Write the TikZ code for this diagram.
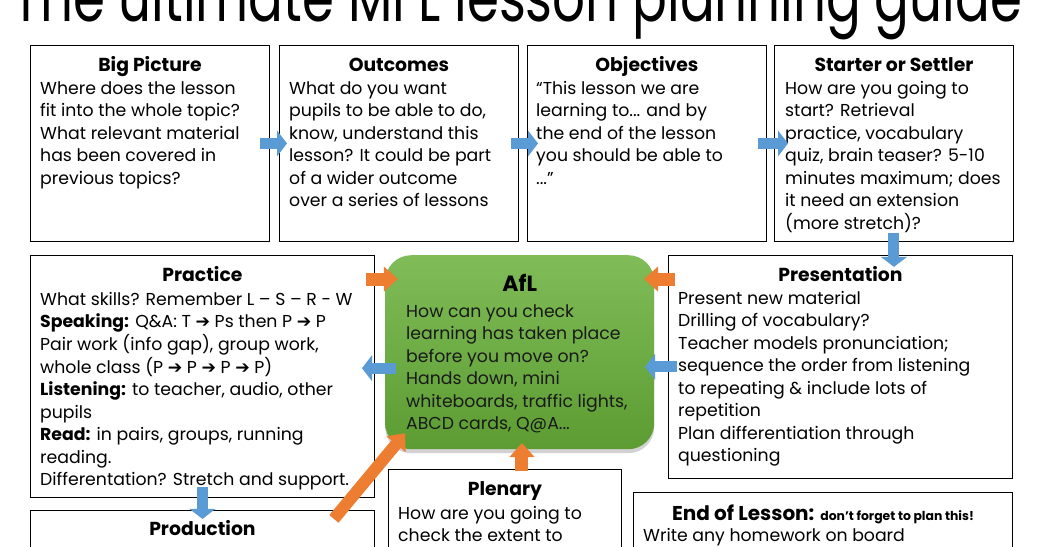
\documentclass[tikz,border=0pt]{standalone}
\usepackage{fontspec}
\setmainfont{Poppins}
\newfontfamily\arrowfont{DejaVu Sans}
\usepackage{graphicx}
\usetikzlibrary{arrows.meta,shadows,positioning}

\definecolor{arrowblue}{RGB}{91,155,213}
\definecolor{arroworange}{RGB}{237,125,49}
\definecolor{afltop}{RGB}{128,188,88}
\definecolor{aflbottom}{RGB}{92,156,50}

\newcommand{\pto}{{\arrowfont\bfseries ➔}}
\newcommand{\cardlines}[1]{\begin{tabular}[t]{@{}l@{}}#1\end{tabular}}

\tikzset{
  card/.style={draw, line width=0.9pt, fill=white, anchor=north west, inner sep=0pt},
  head/.style={anchor=base, inner sep=0pt, font=\fontsize{18.8}{22.5}\selectfont\bfseries},
  body/.style={anchor=base west, inner sep=0pt, font=\fontsize{17.3}{22.5}\selectfont},
  bluearrow/.style={draw=arrowblue, line width=11pt, -{Triangle[length=10pt,width=26pt,line width=0pt]}},
  orangearrow/.style={draw=arroworange, line width=13pt, -{Triangle[length=14pt,width=25pt,line width=0pt]}},
}

\begin{document}
\begin{tikzpicture}[x=1pt, y=-1pt]
        \useasboundingbox (0,0) rectangle (1040,546);
        \clip (0,0) rectangle (1040,546);
        \fill[white] (0,0) rectangle (1040,546);

        \node[anchor=base west, inner sep=0pt] (title) at (12,21)
            {\resizebox{1010pt}{52pt}{\fontsize{48}{54}\selectfont The ultimate MFL lesson planning guide}};

        % top row
        \node[card, minimum width=239pt, minimum height=196pt] (big) at (30,45) {};
        \node[card, minimum width=239pt, minimum height=196pt] (out) at (279,45) {};
        \node[card, minimum width=239pt, minimum height=196pt] (obj) at (527,45) {};
        \node[card, minimum width=239pt, minimum height=196pt] (sta) at (774,45) {};

        \node[head] (bigh) at ([yshift=-26pt]big.north) {Big Picture};
        \node[head] (outh) at ([yshift=-26pt]out.north) {Outcomes};
        \node[head] (objh) at ([yshift=-26pt]obj.north) {Objectives};
        \node[head] (stah) at ([yshift=-26pt]sta.north) {Starter or Settler};

        \node[body] (bigt) at ([shift={(10pt,-49pt)}]big.north west)
            {\cardlines{Where does the lesson\\fit into the whole topic?\\What relevant material\\has been covered in\\previous topics?}};
        \node[body] (outt) at ([shift={(10pt,-49pt)}]out.north west)
            {\cardlines{What do you want\\pupils to be able to do,\\know, understand this\\lesson? It could be part\\of a wider outcome\\over a series of lessons}};
        \node[body] (objt) at ([shift={(9pt,-49pt)}]obj.north west)
            {\cardlines{“This lesson we are\\learning to... and by\\the end of the lesson\\you should be able to\\...”}};
        \node[body] (stat) at ([shift={(11pt,-49pt)}]sta.north west)
            {\cardlines{How are you going to\\start? Retrieval\\practice, vocabulary\\quiz, brain teaser? 5-10\\minutes maximum; does\\it need an extension\\(more stretch)?}};

        % middle row
        \node[card, minimum width=344pt, minimum height=242pt] (prac) at (30,255) {};
        \node[card, minimum width=344pt, minimum height=223pt] (pres) at (668,255) {};
        \node[anchor=north west, minimum width=269pt, minimum height=194pt, inner sep=0pt,
              rounded corners=26pt, top color=afltop, bottom color=aflbottom,
              drop shadow={opacity=0.35, shadow xshift=0pt, shadow yshift=-4pt}] (afl) at (385,255) {};

        \node[head] (prach) at ([yshift=-26pt]prac.north) {Practice};
        \node[head] (presh) at ([yshift=-26pt]pres.north) {Presentation};
        \node[head, font=\fontsize{22}{24}\selectfont\bfseries] (aflh) at ([yshift=-36pt]afl.north) {AfL};

        \node[body] (pract) at ([shift={(10pt,-50pt)}]prac.north west)
            {\cardlines{What skills? Remember L – S – R - W\\
             \textbf{Speaking:} Q\&A: T \pto{} Ps then P \pto{} P\\
             Pair work (info gap), group work,\\
             whole class (P \pto{} P \pto{} P \pto{} P)\\
             \textbf{Listening:} to teacher, audio, other\\
             pupils\\
             \textbf{Read:} in pairs, groups, running\\
             reading.\\
             Differentation? Stretch and support.}};
        \node[body] (prest) at ([shift={(10pt,-49pt)}]pres.north west)
            {\cardlines{Present new material\\Drilling of vocabulary?\\Teacher models pronunciation;\\sequence the order from listening\\to repeating \& include lots of\\repetition\\Plan differentiation through\\questioning}};
        \node[body, text=black!90] (aflt) at ([shift={(21pt,-62pt)}]afl.north west)
            {\cardlines{How can you check\\learning has taken place\\before you move on?\\Hands down, mini\\whiteboards, traffic lights,\\ABCD cards, Q@A...}};

        % bottom row
        \node[card, minimum width=344pt, minimum height=60pt] (prod) at (30,510) {};
        \node[card, minimum width=233pt, minimum height=100pt] (plen) at (388,469) {};
        \node[card, minimum width=379pt, minimum height=80pt] (endl) at (633,492) {};

        \node[head] (prodh) at ([yshift=-25pt]prod.north) {Production};
        \node[head] (plenh) at ([yshift=-26pt]plen.north) {Plenary};
        \node[anchor=base, inner sep=0pt] (endh) at ([yshift=-28pt]endl.north)
            {\fontsize{20}{22}\selectfont\bfseries End of Lesson:\hspace{6pt}{\fontsize{12.4}{14}\selectfont don’t forget to plan this!}};

        \node[body] (plent) at ([shift={(10pt,-50pt)}]plen.north west)
            {\cardlines{How are you going to\\check the extent to}};
        \node[body] (endt) at ([shift={(10pt,-49pt)}]endl.north west)
            {\cardlines{Write any homework on board}};

        % flow arrows
        \draw[bluearrow] ([xshift=-10pt]big.east) -- ([xshift=8pt]out.west);
        \draw[bluearrow] ([xshift=-8pt]out.east) -- ([xshift=11pt]obj.west);
        \draw[bluearrow] ([xshift=-9pt]obj.east) -- ([xshift=14pt]sta.west);
        \draw[bluearrow] ([yshift=9pt]sta.south) -- ++(0,34);
        \draw[bluearrow] ([xshift=9pt]pres.west) -- ++(-32,0);
        \draw[bluearrow] ([shift={(11pt,-16pt)}]afl.west) -- ++(-34,0);
        \draw[bluearrow] ([yshift=11pt]prac.south) -- ++(0,32);

        \draw[orangearrow] ([shift={(-9pt,-24pt)}]prac.north east) -- ++(32,0);
        \draw[orangearrow] ([shift={(7pt,-24pt)}]pres.north west) -- ++(-31,0);
        \draw[orangearrow] ([shift={(17pt,-2pt)}]plen.north) -- ++(0,-28);
        \draw[orangearrow, line width=12pt] ([shift={(-41pt,-21pt)}]prac.south east) -- ([shift={(20pt,16pt)}]afl.south west);
\end{tikzpicture}
\end{document}
